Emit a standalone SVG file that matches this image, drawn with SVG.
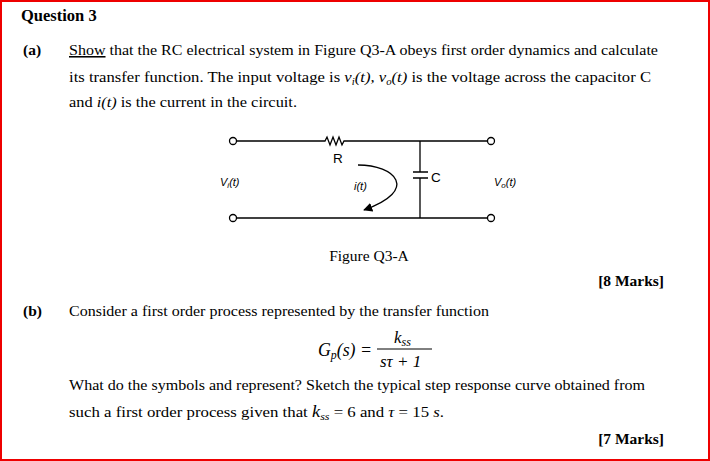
<svg xmlns="http://www.w3.org/2000/svg" width="710" height="461" viewBox="0 0 710 461">
<style>
.t{font-family:"Liberation Serif",serif;font-size:15.5px;fill:#000}
.b{font-weight:bold}
.i{font-style:italic}
.s{font-family:"Liberation Sans",sans-serif;font-size:11px;fill:#000}
.w{stroke:#000;stroke-width:1.3;fill:none}
.o{stroke:#000;stroke-width:1.3;fill:#fff}
</style>
<defs><marker id="ah" viewBox="0 0 10 10" refX="9" refY="5" markerWidth="7" markerHeight="7" orient="auto"><path d="M0,0L10,5L0,10z" fill="#000"/></marker></defs>
<rect width="710" height="461" fill="#fff"/>
<rect x="1" y="1" width="708" height="459" fill="none" stroke="#e00" stroke-width="2"/>
<g id="text">
<text class="t b" x="21" y="21" style="font-size:16.5px">Question 3</text>
<text class="t b" x="23" y="55">(a)</text>
<text class="t" x="69" y="55" textLength="589" lengthAdjust="spacingAndGlyphs"><tspan text-decoration="underline">Show</tspan> that the RC electrical system in Figure Q3-A obeys first order dynamics and calculate</text>
<text class="t" x="69" y="82" textLength="582" lengthAdjust="spacingAndGlyphs">its transfer function. The input voltage is <tspan class="i">v<tspan style="font-size:10px" dy="3">i</tspan><tspan dy="-3">(t), v</tspan><tspan style="font-size:10px" dy="3">o</tspan><tspan dy="-3">(t)</tspan></tspan>  is the voltage across the capacitor C</text>
<text class="t" x="69" y="107" textLength="228" lengthAdjust="spacingAndGlyphs">and <tspan class="i">i(t)</tspan> is the current in the circuit.</text>
<text class="t" x="369" y="261" text-anchor="middle">Figure Q3-A</text>
<text class="t b" x="664" y="286" text-anchor="end">[8 Marks]</text>
<text class="t b" x="23" y="316">(b)</text>
<text class="t" x="69" y="316" textLength="420" lengthAdjust="spacingAndGlyphs">Consider a first order process represented by the transfer function</text>
<text class="t i" x="318" y="356" style="font-size:18px" textLength="54" lengthAdjust="spacingAndGlyphs">G<tspan style="font-size:12px" dy="3">p</tspan><tspan dy="-3">(s) =</tspan></text>
<line x1="377" y1="349" x2="432" y2="349" stroke="#000" stroke-width="1"/>
<text class="t i" x="394" y="343" style="font-size:17px">k<tspan style="font-size:12px" dy="3">ss</tspan></text>
<text class="t i" x="380" y="367" style="font-size:17px">sτ + 1</text>
<text class="t" x="69" y="390" textLength="576" lengthAdjust="spacingAndGlyphs">What do the symbols and represent? Sketch the typical step response curve obtained from</text>
<text class="t" x="69" y="417" textLength="375" lengthAdjust="spacingAndGlyphs">such a first order process given that <tspan class="i" style="font-size:17px">k<tspan style="font-size:11px" dy="3">ss</tspan></tspan><tspan dy="-3"> = 6 and </tspan><tspan class="i">τ</tspan> = 15 <tspan class="i">s</tspan>.</text>
<text class="t b" x="664" y="444" text-anchor="end">[7 Marks]</text>
</g>
<g id="connectors">
<path class="w" d="M237,141H325l2,-4l3,8l3,-8l3,8l3,-8l3,8l2,-4H487"/>
<path class="w" d="M237,218H487"/>
<path class="w" d="M420,141V172M420,178V218"/>
<path class="w" d="M413,172H428M413,178H428"/>
<path class="w" d="M358,165C395,165 420,190 364,210" stroke-width="1" marker-end="url(#ah)"/>
</g>
<g id="terminals">
<circle class="o" cx="233" cy="141" r="3.5"/><circle class="o" cx="233" cy="218" r="3.5"/>
<circle class="o" cx="491" cy="141" r="3.5"/><circle class="o" cx="491" cy="218" r="3.5"/>
</g>
<g id="labels">
<text class="s" x="333" y="163" style="font-size:13.5px">R</text>
<text class="s" x="431" y="182" style="font-size:13.5px">C</text>
<text class="s i" x="220" y="186">V<tspan style="font-size:8px" dy="2">i</tspan><tspan dy="-2">(t)</tspan></text>
<text class="s i" x="354" y="190">i(t)</text>
<text class="s i" x="494" y="186">V<tspan style="font-size:8px" dy="2">o</tspan><tspan dy="-2">(t)</tspan></text>
</g>
</svg>
